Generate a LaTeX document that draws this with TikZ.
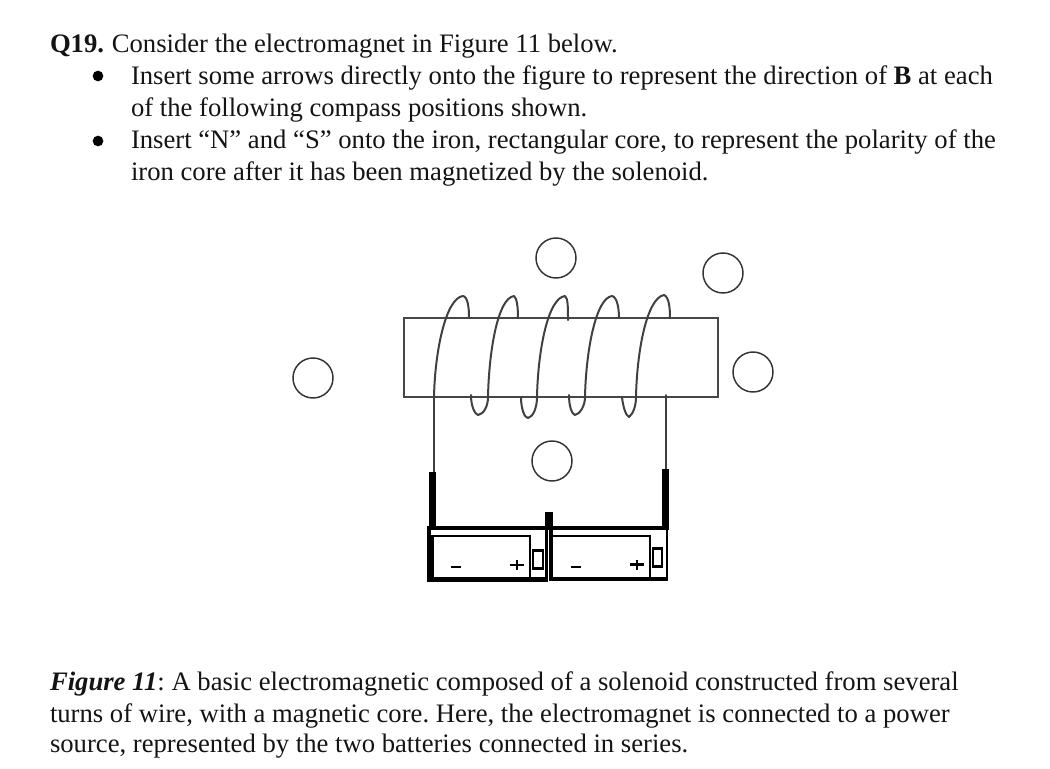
\documentclass[tikz,border=0pt]{standalone}
\usepackage{fontspec}
\setmainfont{Liberation Serif}
\frenchspacing
\tikzset{
  line/.style={anchor=base west,inner sep=0pt,outer sep=0pt,font=\fontsize{20pt}{24pt}\selectfont\frenchspacing,text=black!92},
  compass/.style={circle,draw=black!80,line width=1.1pt,minimum size=30pt,inner sep=0pt},
  wire/.style={draw=black!75,line width=1.5pt,line cap=round,line join=round},
  core/.style={draw=black!72,line width=1.5pt},
  heavy/.style={fill=black,draw=none},
  cell/.style={draw=black,line width=2pt},
  sign/.style={draw=black,line width=2.2pt},
  dot/.style={circle,fill=black,minimum size=8pt,inner sep=0pt}
}
\begin{document}
\begin{tikzpicture}[x=0.75pt,y=-0.75pt]
\useasboundingbox (0,0) rectangle (1050,768);
% text
\node[line] (l1) at (50,52) {\textbf{Q19.} \hspace{0.8pt}Consider the electromagnet in Figure 11 below.};
\node[dot] (b1) at (98,76) {};
\node[line] (l2) at (131,84) {Insert some arrows directly onto the figure to represent the direction of \textbf{B} at each};
\node[line] (l3) at (131,116) {of the following compass positions shown.};
\node[dot] (b2) at (98,141) {};
\node[line] (l4) at (131,148) {Insert “N” and “S” onto the iron, rectangular core, to represent the polarity of the};
\node[line] (l5) at (131,180) {iron core after it has been magnetized by the solenoid.};
\node[line] (c1) at (50,690) {\textbf{\textit{Figure 11}}: A basic electromagnetic composed of a solenoid constructed from several};
\node[line] (c2) at (50,722) {turns of wire, with a magnetic core. Here, the electromagnet is connected to a power};
\node[line] (c3) at (50,752) {source, represented by the two batteries connected in series.};
% compasses
\node[compass] (k1) at (556,258) {};
\node[compass] (k2) at (723,273) {};
\node[compass] (k3) at (313,378) {};
\node[compass] (k4) at (753,372) {};
\node[compass] (k5) at (552,461) {};
% core
\draw[core] (404,318) rectangle (718,397);
% coils
\draw[wire] (434,397) .. controls (435,350) and (446,298) .. (463,296) .. controls (468,297) and (469,308) .. (469,318);
\draw[wire] (488,397) .. controls (489,350) and (498,298) .. (514,296) .. controls (517,298) and (518,308) .. (518,318);
\draw[wire] (537,397) .. controls (538,350) and (548,298) .. (565,296) .. controls (568,298) and (568,308) .. (568,320);
\draw[wire] (585,397) .. controls (586,350) and (596,298) .. (612,296) .. controls (617,297) and (619,308) .. (619,318);
\draw[wire] (636,397) .. controls (637,350) and (647,298) .. (664,295) .. controls (669,297) and (670,308) .. (670,318);
\draw[wire] (471,395) .. controls (471,407) and (475,414) .. (478,415) .. controls (484,414) and (488,406) .. (488,397);
\draw[wire] (521,397) .. controls (521,410) and (525,418) .. (528,418) .. controls (533,417) and (537,408) .. (537,397);
\draw[wire] (569,395) .. controls (569,407) and (572,414) .. (575,415) .. controls (580,414) and (585,406) .. (585,397);
\draw[wire] (622,397) .. controls (623,407) and (626,416) .. (629,417) .. controls (633,414) and (636,406) .. (636,397);
% leads
\coordinate (la) at (434,397); \coordinate (lb) at (434,472);
\coordinate (ra) at (666,395); \coordinate (rb) at (666,470);
\draw[wire] (la) -- (lb);
\draw[wire] (ra) -- (rb);
% thick terminals
\fill[heavy] (428.5,472) rectangle (436,529);
\fill[heavy] (662,469) rectangle (669,529);
\fill[heavy] (545,512) rectangle (553,530);
% battery holder
\fill[heavy] (427,526) rectangle (669,530);
\fill[heavy] (427,527) rectangle (431,582);
\fill[heavy] (427,577) rectangle (547,582);
\fill[heavy] (545,527) rectangle (547.5,582);
\fill[heavy] (549,529) rectangle (553,581);
\fill[heavy] (549,577) rectangle (668,581);
\fill[heavy] (666,527) rectangle (668,581);
% cells
\draw[cell] (432,536) -- (530,536) -- (530,578);
\fill[heavy] (430,535) rectangle (433.5,578);
\draw[cell] (553,536) -- (650,536) -- (650,578);
% terminals
\draw[cell] (533,550.5) rectangle (543,568.5);
\draw[cell] (653,548.5) rectangle (662,566.5);
% signs
\draw[sign] (451,567) -- (461,567);
\draw[sign] (510,565) -- (524,565) (517,560) -- (517,570);
\draw[sign] (571,567) -- (581,567);
\draw[sign] (630,564.5) -- (644,564.5) (637,559.5) -- (637,569.5);
\end{tikzpicture}
\end{document}
